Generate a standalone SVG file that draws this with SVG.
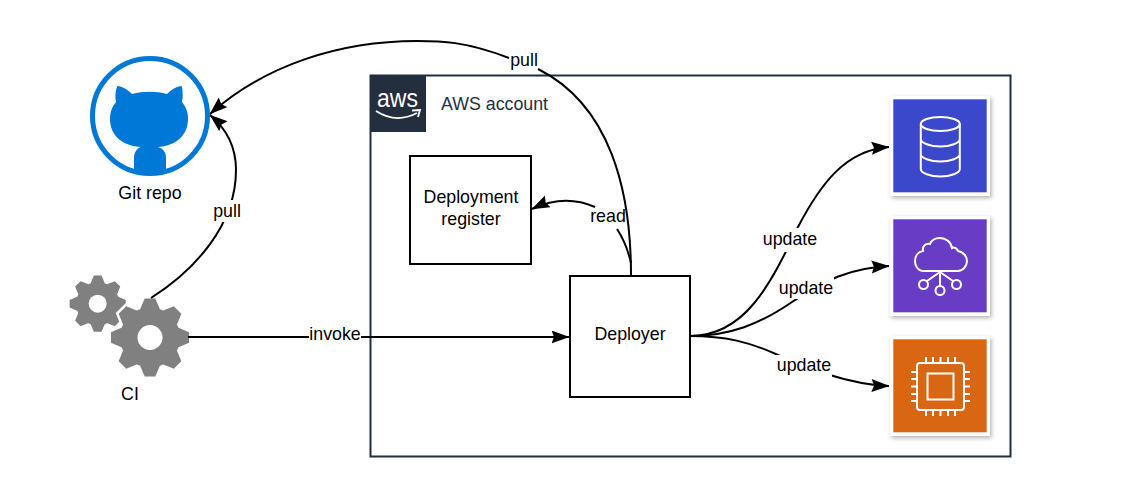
<svg xmlns="http://www.w3.org/2000/svg" width="1121" height="496" viewBox="0 0 1121 496">
<style>
text{font-family:"Liberation Sans",Arial,sans-serif;font-size:17.8px;fill:#000;text-anchor:middle}
.box{fill:#fff;stroke:#000;stroke-width:2}
.c{fill:none;stroke:#000;stroke-width:2}
.e{marker-end:url(#a)}
.l{fill:#fff}
.i{fill:none;stroke:#fff;stroke-width:2}
.g{fill:#808080}
</style>
<defs>
<marker id="a" markerUnits="userSpaceOnUse" markerWidth="20" markerHeight="15" refX="17.500" refY="6.500" orient="auto"><path d="M0 0L18 6.500L0 13L2.500 6.500Z" fill="#000"/></marker>
<filter id="s" x="-10%" y="-10%" width="125%" height="125%"><feDropShadow dx="1.500" dy="2" stdDeviation="2" flood-color="#000" flood-opacity=".3"/></filter>
<g id="gear"><circle r="30"/><g id="t4"><path id="t" d="M-10 -28L-5.300 -39H5.300L10 -28Z"/><use href="#t" transform="rotate(45)"/><use href="#t" transform="rotate(90)"/><use href="#t" transform="rotate(135)"/></g><use href="#t4" transform="rotate(180)"/></g>
</defs>
<rect width="1121" height="496" fill="#fff"/>
<g id="aws-account">
<rect x="370.500" y="75.500" width="640" height="381" fill="#fff" stroke="#232f3e" stroke-width="2"/>
<rect x="370" y="75" width="56" height="57" fill="#232f3e"/>
<text x="397.500" y="107" textLength="41" lengthAdjust="spacingAndGlyphs" style="font-size:26px;fill:#fff">aws</text>
<path d="M376 111Q396 124 417 113M412 110.500L420 110L418 117" fill="none" stroke="#fff" stroke-width="1.800"/>
<text x="441" y="110" style="fill:#232f3e;text-anchor:start">AWS account</text>
</g>
<g id="ci">
<use href="#gear" class="g" transform="translate(97.700 303.700) scale(.72)"/>
<use href="#gear" fill="#fff" stroke="#fff" stroke-width="5" transform="translate(150 337.500)"/>
<use href="#gear" class="g" transform="translate(150 337.500)"/>
<circle cx="97.700" cy="303.700" r="9" fill="#fff"/>
<circle cx="150" cy="337.500" r="12.500" fill="#fff"/>
<text x="130" y="400">CI</text>
</g>
<g id="connectors">
<path class="c" d="M631 275C631 190 610 105 538 69"/>
<path class="c e" d="M509 58C465 41 440 41 417 41C340 41 265 65 210 114"/>
<path class="c" d="M631 263C628 250 623 238 617 229"/>
<path class="c e" d="M595 207C575 198 555 198 532 209"/>
<path class="c e" d="M151 298C195 270 236 225 236 170C236 150 228 130 210 115"/>
<path class="c e" d="M188 337H569"/>
<path class="c e" d="M690 336C745 336 770 285 798 227C820 185 845 150 889 147"/>
<path class="c e" d="M690 336C730 336 760 324 792 302C825 280 850 268 889 266"/>
<path class="c e" d="M690 336C725 336 750 342 778 355C800 366 850 385 889 386"/>
</g>
<g id="connector-labels">
<rect class="l" x="212" y="200" width="30" height="22"/>
<rect class="l" x="309" y="326" width="52" height="22"/>
<rect class="l" x="762" y="228" width="56" height="24"/>
<rect class="l" x="778" y="277" width="56" height="22"/>
<rect class="l" x="776" y="355" width="56" height="22"/>
<text x="524" y="66">pull</text>
<text x="608" y="222">read</text>
<text x="227" y="217">pull</text>
<text x="335" y="340">invoke</text>
<text x="790" y="245">update</text>
<text x="806" y="294">update</text>
<text x="804" y="371">update</text>
</g>
<g id="git-repo">
<circle cx="150" cy="116" r="57.500" fill="#fff" stroke="#0078d7" stroke-width="5"/>
<path fill="#0078d7" d="M117.300 86C122 86 128 90 132 94C143 91 156 91 167 94C171 90 177 86 181.700 86C183 92 183 97 182 102C186 107 188 112 188 119C188 136 175 146 158 147C164 149 166 153 166 158V172Q150 176 134 172V158C134 153 136 149 141 147C123 146 110 136 110 119C110 112 112 107 116 102C115 97 115 92 117.300 86Z"/>
<text x="150" y="199">Git repo</text>
</g>
<g id="deployment-register">
<rect class="box" x="410" y="156" width="121" height="108"/>
<text x="471" y="203">Deployment</text><text x="471" y="225">register</text>
</g>
<g id="deployer">
<rect class="box" x="570" y="276" width="120" height="121"/>
<text x="630" y="340">Deployer</text>
</g>
<g id="database">
<rect x="890" y="96" width="100" height="100" fill="#fff" filter="url(#s)"/>
<rect x="893.300" y="99.300" width="93.400" height="93" fill="#3b48cc"/>
<ellipse class="i" cx="940.300" cy="124" rx="19.500" ry="7"/>
<path class="i" d="M920.800 124V169C920.800 173 930 176.500 940.300 176.500S959.800 173 959.800 169V124M920.800 139C920.800 143 930 146.500 940.300 146.500S959.800 143 959.800 139M920.800 154C920.800 158 930 161.500 940.300 161.500S959.800 158 959.800 154"/>
</g>
<g id="network">
<rect x="890" y="216" width="100" height="100" fill="#fff" filter="url(#s)"/>
<rect x="893.300" y="219.300" width="93.400" height="93" fill="#693cc5"/>
<path class="i" d="M924 271C917 271 915 265 915 261C915 256 918 252 923 251C922 246 926 243 930 244C932 239 936 238 940 238C946 238 951 242 952 248C954 247 957 248 958 251C963 252 967 256 967 261C967 266 963 271 958 271Z"/>
<path class="i" d="M940 271V286M940 272L927 281M940 272L953 281"/>
<circle class="i" cx="923.500" cy="284.500" r="4.500"/><circle class="i" cx="940" cy="290.500" r="4.500"/><circle class="i" cx="956.500" cy="284.500" r="4.500"/>
</g>
<g id="compute">
<rect x="890" y="336" width="100" height="100" fill="#fff" filter="url(#s)"/>
<rect x="893.300" y="339.300" width="93.400" height="93" fill="#d86613"/>
<rect class="i" x="917" y="363" width="47" height="47" rx="3"/>
<rect class="i" x="927.500" y="373.500" width="26" height="26"/>
<path class="i" d="M926 357V363M933 357V363M940.500 357V363M948 357V363M955 357V363M926 410V416M933 410V416M940.500 410V416M948 410V416M955 410V416M911 372H917M911 379H917M911 386.500H917M911 394H917M911 401H917M964 372H970M964 379H970M964 386.500H970M964 394H970M964 401H970"/>
</g>
</svg>
